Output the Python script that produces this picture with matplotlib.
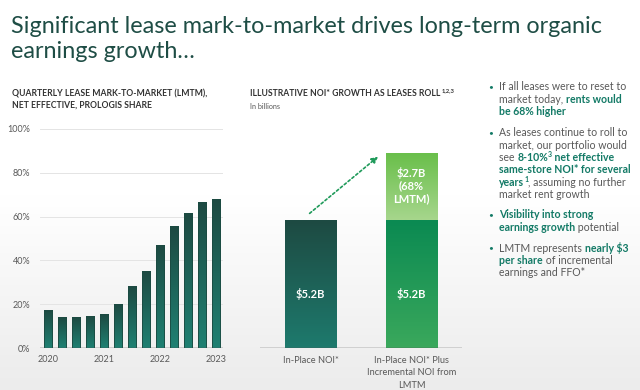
import numpy as np
import matplotlib
matplotlib.use('Agg')
import matplotlib.pyplot as plt
from matplotlib.colors import LinearSegmentedColormap

plt.rcParams['font.family'] = ['Lato', 'DejaVu Sans']

# ─── Données ────────────────────────────────────────────────────────────
lmtm_values = [17, 14, 14, 14.5, 15.5, 20, 28, 35, 47, 55.5, 61.5, 66.5, 68]
year_ticks = [0, 4, 8, 12]
year_labels = ['2020', '2021', '2022', '2023']
pct_ticks = [0, 20, 40, 60, 80, 100]

noi_labels = ['In-Place NOI*', 'In-Place NOI* Plus\nIncremental NOI from\nLMTM']
noi_base = [5.2, 5.2]
noi_incr = [0, 2.7]

W, H = 640, 390
TEAL_DARK = '#1e4d45'
BOLD_TEAL = '#137a66'
GREY_TXT = '#595959'


def box(x0, y0, x1, y1):
    """Pixels (origine en haut à gauche) -> rect figure."""
    return [x0 / W, 1 - y1 / H, (x1 - x0) / W, (y1 - y0) / H]


def grad_bar(ax, x, w, y0, y1, top, bottom, edge=None):
    # dégradé vertical : couleur 'top' en haut de la barre
    cmap = LinearSegmentedColormap.from_list('g', [top, bottom])
    grad = np.linspace(0, 1, 64).reshape(-1, 1)
    ax.imshow(grad, cmap=cmap, extent=[x - w / 2, x + w / 2, y0, y1],
              aspect='auto', zorder=2, origin='upper')
    if edge:
        ax.add_patch(plt.Rectangle((x - w / 2, y0), w, y1 - y0, fill=False,
                                   edgecolor=edge, lw=0.6, zorder=3))


fig = plt.figure(figsize=(W / 100, H / 100), dpi=100)

# Fond dégradé + calque texte en pixels
bg = fig.add_axes([0, 0, 1, 1])
bg.set_xlim(0, W)
bg.set_ylim(H, 0)
bg.axis('off')
bgmap = LinearSegmentedColormap.from_list('bg', ['#ffffff', '#ffffff', '#ececec'])
bg.imshow(np.linspace(0, 1, 100).reshape(-1, 1), cmap=bgmap,
          extent=[0, W, H, 0], aspect='auto', zorder=0)

# Titre
bg.text(11, 33, 'Significant lease mark-to-market drives long-term organic',
        fontsize=16.8, color=TEAL_DARK, va='baseline')
bg.text(11, 58, 'earnings growth…', fontsize=16.8, color=TEAL_DARK, va='baseline')

# Sous-titres
bg.text(12, 96, 'QUARTERLY LEASE MARK-TO-MARKET (LMTM),', fontsize=6.2,
        fontweight='bold', color='#333333', va='baseline')
bg.text(12, 108, 'NET EFFECTIVE, PROLOGIS SHARE', fontsize=6.2,
        fontweight='bold', color='#333333', va='baseline')
t = bg.text(250, 96, 'ILLUSTRATIVE NOI* GROWTH AS LEASES ROLL', fontsize=6.2,
            fontweight='bold', color='#333333', va='baseline')
fig.canvas.draw()
r = fig.canvas.get_renderer()
tw = t.get_window_extent(r).width
bg.text(250 + tw + 1, 92, '1,2,3', fontsize=4.2, fontweight='bold',
        color='#333333', va='baseline')
bg.text(250, 109, 'In billions', fontsize=5.2, color=GREY_TXT, va='baseline')

# ─── Graphique gauche : LMTM trimestriel ────────────────────────────────
ax1 = fig.add_axes(box(40, 129, 223, 348))
ax1.set_facecolor('none')
ax1.set_xlim(-0.57, 12.5)
ax1.set_ylim(0, 100)
for i, v in enumerate(lmtm_values):
    grad_bar(ax1, i, 0.58, 0, v, '#1d4a42', '#1f8072', edge='#1b4a41')
for yv in pct_ticks[1:]:
    ax1.axhline(yv, color='#e4e4e4', lw=0.7, zorder=1)
ax1.axhline(0, color='#4a4a4a', lw=1.0, zorder=4)
ax1.set_yticks(pct_ticks)
ax1.set_yticklabels([f'{p}%' for p in pct_ticks])
ax1.set_xticks(year_ticks)
ax1.set_xticklabels(year_labels)
ax1.tick_params(length=0, labelsize=6.5, colors=GREY_TXT, pad=5)
ax1.tick_params(axis='y', pad=7)
for s in ax1.spines.values():
    s.set_visible(False)

# ─── Graphique central : NOI illustratif ────────────────────────────────
ax2 = fig.add_axes(box(260, 126.6, 462, 348))
ax2.set_facecolor('none')
ax2.set_xlim(-0.5, 1.5)
ax2.set_ylim(0, 9)
bw = 0.505
grad_bar(ax2, 0, bw, 0, noi_base[0], '#1d4a42', '#1e7a6d')
grad_bar(ax2, 1, bw, 0, noi_base[1], '#0b8a52', '#3aa85c')
grad_bar(ax2, 1, bw, noi_base[1], noi_base[1] + noi_incr[1], '#6abf4b', '#a6d68c')
for i in range(2):
    ax2.text(i, noi_base[i] * 0.42, f'${noi_base[i]}B', ha='center', va='center',
             color='white', fontsize=8, fontweight='bold', zorder=5)
ax2.text(1, noi_base[1] + noi_incr[1] / 2 + 0.05,
         f'${noi_incr[1]}B\n(68%\nLMTM)', ha='center', va='center',
         color='white', fontsize=8, fontweight='bold', linespacing=1.2, zorder=5)
ax2.axhline(0, color='#555555', lw=1.0, zorder=4)
ax2.annotate('', xy=(0.69, 7.85), xytext=(-0.03, 5.4),
             arrowprops=dict(arrowstyle='-|>', color='#1f9a5a', lw=1.2,
                             linestyle=(0, (1.5, 1.5)), mutation_scale=9))
ax2.set_xticks([0, 1])
ax2.set_xticklabels(noi_labels)
ax2.tick_params(length=0, labelsize=6.7, colors=GREY_TXT, pad=6)
ax2.set_yticks([])
for lab in ax2.get_xticklabels():
    lab.set_linespacing(1.45)
for s in ax2.spines.values():
    s.set_visible(False)

# ─── Puces à droite ─────────────────────────────────────────────────────
N, B, BS = 'n', 'b', 'bs'
bullets = [
    (87, [[('If all leases were to reset to', N)],
          [('market today, ', N), ('rents would', B)],
          [('be 68% higher', B)]]),
    (133, [[('As leases continue to roll to', N)],
           [('market, our portfolio would', N)],
           [('see ', N), ('8-10%', B), ('3', BS), (' net effective', B)],
           [('same-store NOI* for several', B)],
           [('years', B), ('1', BS), (', assuming no further', N)],
           [('market rent growth', N)]]),
    (215, [[('Visibility into strong', B)],
           [('earnings growth', B), (' potential', N)]]),
    (248, [[('LMTM represents ', N), ('nearly $3', B)],
           [('per share', B), (' of incremental', N)],
           [('earnings and FFO*', N)]]),
]
fs = 7.6
for y0, lines in bullets:
    bg.text(488, y0, '•', fontsize=fs * 0.8, color=BOLD_TEAL, va='center')
    for k, segs in enumerate(lines):
        y = y0 + k * 12.3
        x = 499
        for txt, kind in segs:
            if kind == BS:
                tt = bg.text(x, y - 3, txt, fontsize=5, fontweight='bold',
                             color=BOLD_TEAL, va='center')
            else:
                tt = bg.text(x, y, txt, fontsize=fs,
                             fontweight='bold' if kind == B else 'normal',
                             color=BOLD_TEAL if kind == B else GREY_TXT,
                             va='center')
            x += tt.get_window_extent(r).width

fig.savefig('out.png', dpi=100)
